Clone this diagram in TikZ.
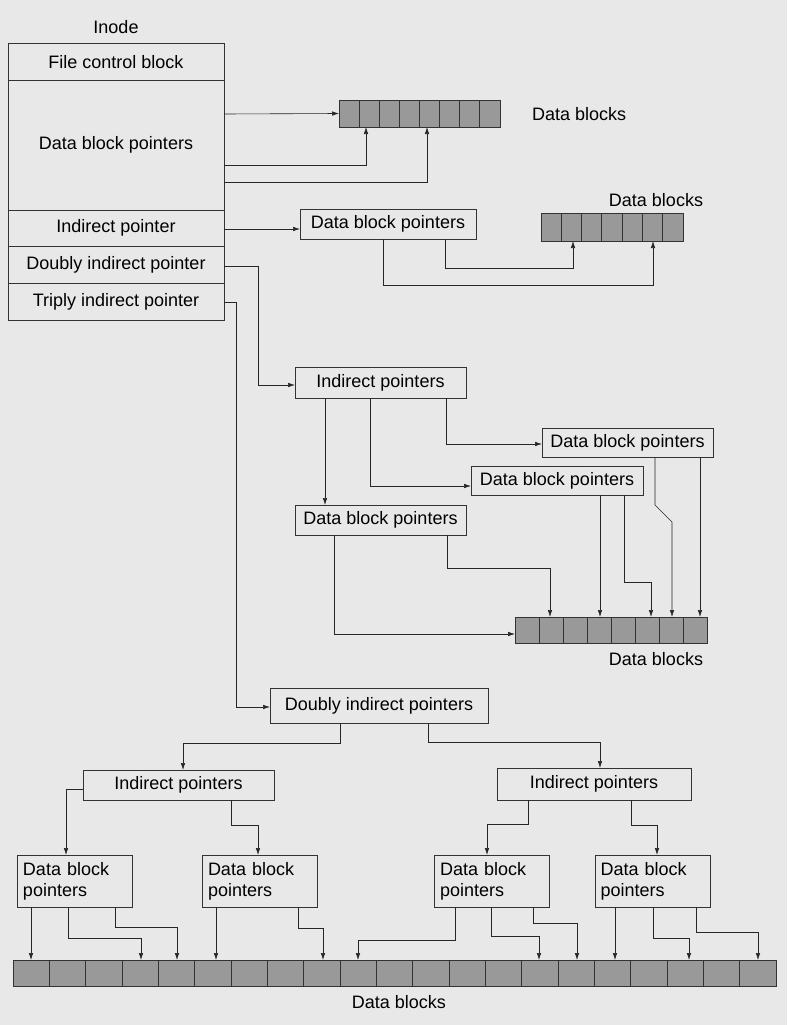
\documentclass[tikz,border=0pt]{standalone}
\usepackage{fontspec}
\setmainfont{Liberation Sans}
\usetikzlibrary{arrows.meta,calc}
\tikzset{
  box/.style={draw=black!80, line width=0.8pt, inner sep=0pt, outer sep=0pt, font=\fontsize{18}{21}\selectfont},
  dblk/.style={draw=black!80, line width=0.8pt, fill=black!40, inner sep=0pt, outer sep=0pt},
  lbl/.style={font=\fontsize{18}{21}\selectfont, inner sep=0pt},
  wire/.style={line width=0.6pt, black!85},
  arr/.style={wire, -{Latex[length=7pt,width=4.5pt]}},
}
\newcommand{\cellsplit}[2]{%
  \foreach \i in {1,...,\numexpr#2-1\relax}{%
    \draw[line width=0.8pt, black!80] ($(#1.north west)!\i/#2!(#1.north east)$) -- ($(#1.south west)!\i/#2!(#1.south east)$);}}
\begin{document}
\begin{tikzpicture}[x=1pt,y=-1pt]
\fill[black!9] (0,0) rectangle (787,1025);
\useasboundingbox (0,0) rectangle (787,1025);
% inode
\node[lbl] (inodet) at (116,27) {Inode};
\node[box, minimum width=216, minimum height=277] (inode) at (116,181.5) {};
\foreach \y in {80,210,246,283} \draw[line width=0.8pt, black!80] (8,\y) -- (224,\y);
\node[lbl] (fcb) at (116,62) {File control block};
\node[lbl] (idbp) at (116,145) {Data block pointers};
\node[lbl] (iip) at (116,228) {Indirect pointer};
\node[lbl] (idip) at (116,265) {Doubly indirect pointer};
\node[lbl] (itip) at (116,302) {Triply indirect pointer};
% direct data blocks
\node[dblk, minimum width=161, minimum height=27] (db1) at (419.5,113.5) {};
\cellsplit{db1}{8}
\node[lbl, anchor=west] (db1l) at (532,114) {Data blocks};
\draw[arr] (inode.east |- 0,114) -- (db1.west);
\draw[arr] (inode.east |- 0,165) -| (366,127);
\draw[arr] (inode.east |- 0,182) -| (427,127);
% single indirect
\node[box, minimum width=176, minimum height=30] (dbp1) at (388,224) {Data block pointers};
\draw[arr] (inode.east |- 0,229) -- (dbp1.west |- 0,229);
\node[dblk, minimum width=142, minimum height=28] (db2) at (612,227) {};
\cellsplit{db2}{7}
\node[lbl] (db2l) at (656,200) {Data blocks};
\draw[arr] (dbp1.south -| 383,0) |- (653,285) -- (653,241);
\draw[arr] (dbp1.south -| 445,0) |- (573,268) -- (573,241);
% double indirect
\node[box, minimum width=171, minimum height=31] (ip1) at (380.5,382.5) {Indirect pointers};
\draw[arr] (inode.east |- 0,266) -- (258,266) |- (ip1.west |- 0,385);
\node[box, minimum width=171, minimum height=29] (dbpA) at (627.5,442.5) {Data block pointers};
\node[box, minimum width=172, minimum height=29] (dbpB) at (557,480.5) {Data block pointers};
\node[box, minimum width=171, minimum height=30] (dbpC) at (380.5,520) {Data block pointers};
\draw[arr] (ip1.south -| 325,0) -- (dbpC.north -| 325,0);
\draw[arr] (ip1.south -| 370,0) |- (dbpB.west |- 0,486);
\draw[arr] (ip1.south -| 446,0) |- (dbpA.west |- 0,444);
\node[dblk, minimum width=192, minimum height=26] (db3) at (611,630) {};
\cellsplit{db3}{8}
\node[lbl] (db3l) at (656,659) {Data blocks};
\draw[arr] (dbpC.south -| 334,0) |- (db3.west |- 0,634);
\draw[arr] (dbpC.south -| 447,0) |- (550,568) -- (db3.north -| 550,0);
\draw[arr] (dbpB.south -| 600,0) -- (db3.north -| 600,0);
\draw[arr] (dbpB.south -| 624,0) |- (651,582) -- (db3.north -| 651,0);
\draw[arr] (dbpA.south -| 655,0) -- (655,505) -- (672,522) -- (db3.north -| 672,0);
\draw[arr] (dbpA.south -| 700,0) -- (db3.north -| 700,0);
% triple indirect
\node[box, minimum width=218, minimum height=35] (dip) at (379,705.5) {Doubly indirect pointers};
\draw[arr] (inode.east |- 0,302) -- (236,302) |- (dip.west |- 0,707);
\node[box, minimum width=191, minimum height=30] (ipL) at (178.5,785) {Indirect pointers};
\node[box, minimum width=194, minimum height=32] (ipR) at (594,784) {Indirect pointers};
\draw[arr] (dip.south -| 340,0) |- (183,743) -- (ipL.north -| 183,0);
\draw[arr] (dip.south -| 428,0) |- (600,742) -- (ipR.north -| 600,0);
\tikzset{dbpp/.style={box, minimum width=115, minimum height=52, align=left, text width=104}}
\node[dbpp] (d1) at (75,881) {Data block\\pointers};
\node[dbpp] (d2) at (260,881) {Data block\\pointers};
\node[dbpp] (d3) at (492,881) {Data block\\pointers};
\node[dbpp] (d4) at (652.5,881) {Data block\\pointers};
\draw[arr] (ipL.west |- 0,789) -- (66,789) -- (d1.north -| 66,0);
\draw[arr] (ipL.south -| 231,0) |- (258,825) -- (d2.north -| 258,0);
\draw[arr] (ipR.south -| 528,0) |- (487,824) -- (d3.north -| 487,0);
\draw[arr] (ipR.south -| 631,0) |- (657,825) -- (d4.north -| 657,0);
\node[dblk, minimum width=763, minimum height=26] (db4) at (394.5,973) {};
\cellsplit{db4}{21}
\node[lbl] (db4l) at (399,1002) {Data blocks};
\draw[arr] (d1.south -| 31,0) -- (db4.north -| 31,0);
\draw[arr] (d1.south -| 68,0) |- (141,938) -- (db4.north -| 141,0);
\draw[arr] (d1.south -| 115,0) |- (177,927) -- (db4.north -| 177,0);
\draw[arr] (d2.south -| 216,0) -- (db4.north -| 216,0);
\draw[arr] (d2.south -| 298,0) |- (323,928) -- (db4.north -| 323,0);
\draw[arr] (d3.south -| 455,0) |- (358,940) -- (db4.north -| 358,0);
\draw[arr] (d3.south -| 491,0) |- (539,936) -- (db4.north -| 539,0);
\draw[arr] (d3.south -| 533,0) |- (577,923) -- (db4.north -| 577,0);
\draw[arr] (d4.south -| 615,0) -- (db4.north -| 615,0);
\draw[arr] (d4.south -| 653,0) |- (689,938) -- (db4.north -| 689,0);
\draw[arr] (d4.south -| 696,0) |- (758,932) -- (db4.north -| 758,0);
\end{tikzpicture}
\end{document}
